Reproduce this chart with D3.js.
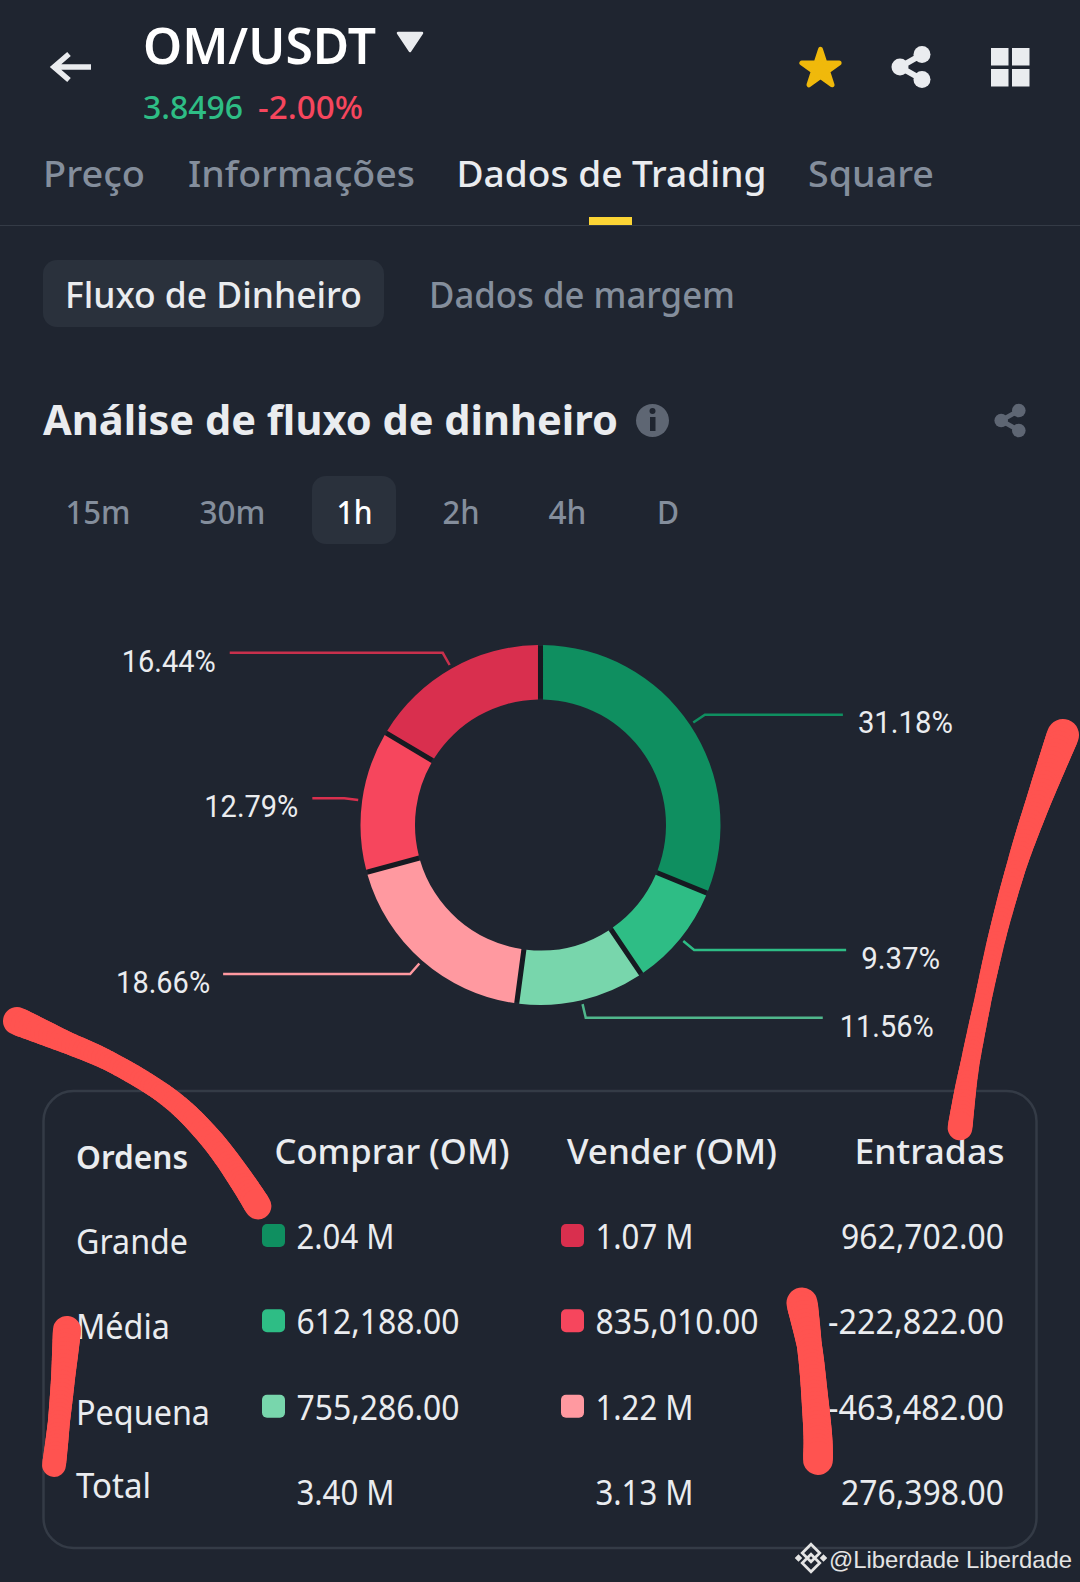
<!DOCTYPE html>
<html>
<head>
<meta charset="utf-8">
<script src="https://cdn.jsdelivr.net/npm/d3@7"></script>
<style>
  html, body { margin: 0; padding: 0; background: #1f2530; }
  svg { display: block; }
</style>
</head>
<body>
<div id="chart"></div>
<script>
// Chart data
const sliceLabels = ["31.18%", "9.37%", "11.56%", "18.66%", "12.79%", "16.44%"];
const sliceValues = [31.18, 9.37, 11.56, 18.66, 12.79, 16.44];
const sliceColors = ["#0f8f60", "#2ebd85", "#78d6ac", "#ff99a0", "#f6465d", "#d92f4e"];
const lineColors = ["#0f8f60", "#2ebd85", "#50b78c", "#ff99a0", "#d9304e", "#c8304c"];

const orderTypes = ["Grande", "Média", "Pequena", "Total"];
const buyValues = ["2.04 M", "612,188.00", "755,286.00", "3.40 M"];
const sellValues = ["1.07 M", "835,010.00", "1.22 M", "3.13 M"];
const inflowValues = ["962,702.00", "-222,822.00", "-463,482.00", "276,398.00"];
const tableHead = ["Ordens", "Comprar (OM)", "Vender (OM)", "Entradas"];

const pageTabs = ["Preço", "Informações", "Dados de Trading", "Square"];
const intervals = ["15m", "30m", "1h", "2h", "4h", "D"];

const width = 1080;
const height = 1582;
const bg = "#1f2530";
const white = "#eaecef";
const grey = "#848e9c";
const font = "'Noto Sans', sans-serif";
const numFont = "Roboto, sans-serif";

const svg = d3.select("#chart").append("svg")
  .attr("width", width)
  .attr("height", height)
  .attr("viewBox", `0 0 ${width} ${height}`);

svg.append("rect").attr("width", width).attr("height", height).attr("fill", bg);

// text helper, w squeezes the text to the width measured on the picture
function txt(s, x, y, size, fill, opts = {}) {
  const t = svg.append("text")
    .attr("x", x).attr("y", y)
    .attr("font-family", opts.family || font)
    .attr("font-size", size)
    .attr("font-weight", opts.weight || 400)
    .attr("fill", fill)
    .attr("text-anchor", opts.anchor || "start")
    .text(s);
  if (opts.w) t.attr("textLength", opts.w).attr("lengthAdjust", "spacingAndGlyphs");
  return t;
}

// Header
svg.append("path")
  .attr("d", "M91,67H55M69,54L54,67L69,80")
  .attr("fill", "none").attr("stroke", white).attr("stroke-width", 5.5);
txt("OM/USDT", 143, 64, 51, "#fff", { weight: 600, w: 233 });
svg.append("path").attr("d", "M398,33H422L410,51Z").attr("fill", white)
  .attr("stroke", white).attr("stroke-width", 2.5).attr("stroke-linejoin", "round");
txt("3.8496", 143, 119, 33, "#2ebd85", { weight: 500, w: 100 });
txt("-2.00%", 258, 119, 33, "#f6465d", { weight: 500, w: 105 });

svg.append("path")
  .attr("d", d3.symbol(d3.symbolStar, 430)())
  .attr("transform", "translate(820.5,69)")
  .attr("fill", "#f0b90b").attr("stroke", "#f0b90b")
  .attr("stroke-width", 5).attr("stroke-linejoin", "round");

function shareIcon(cx, cy, k, color) {
  const g = svg.append("g").attr("transform", `translate(${cx},${cy}) scale(${k})`);
  g.append("path").attr("d", "M11,-12.5L-11,0L11,12.5")
    .attr("fill", "none").attr("stroke", color).attr("stroke-width", 6);
  [[11, -12.5], [-11, 0], [11, 12.5]].forEach(p => {
    g.append("circle").attr("cx", p[0]).attr("cy", p[1]).attr("r", 8.5).attr("fill", color);
  });
}
shareIcon(911, 67, 1, white);

// grid icon, top right
[[991, 48], [1012, 48], [991, 69], [1012, 69]].forEach(p => {
  svg.append("rect").attr("x", p[0]).attr("y", p[1]).attr("width", 17.5).attr("height", 17.5).attr("fill", white);
});

// Tabs
const tabX = [43, 188, 456.5, 808];
const tabW = [102, 227, 310, 126];
pageTabs.forEach((t, i) => {
  txt(t, tabX[i], 187, 36, i === 2 ? white : grey, { weight: 500, w: tabW[i] });
});
svg.append("rect").attr("x", 589).attr("y", 217).attr("width", 43).attr("height", 8).attr("fill", "#fcd535");
svg.append("rect").attr("x", 0).attr("y", 225).attr("width", width).attr("height", 1).attr("fill", "#343b46");

svg.append("rect").attr("x", 43).attr("y", 260).attr("width", 341).attr("height", 67).attr("rx", 14).attr("fill", "#2a313c");
txt("Fluxo de Dinheiro", 65, 308, 36, white, { weight: 500, w: 297 });
txt("Dados de margem", 429, 308, 36, grey, { weight: 500, w: 306 });

// Section title
txt("Análise de fluxo de dinheiro", 43, 435, 42, white, { weight: 700, w: 575 });
svg.append("circle").attr("cx", 652.5).attr("cy", 420.5).attr("r", 16.5).attr("fill", "#5e6673");
svg.append("circle").attr("cx", 652.5).attr("cy", 411).attr("r", 3).attr("fill", bg);
svg.append("rect").attr("x", 650).attr("y", 417).attr("width", 5.5).attr("height", 14).attr("fill", bg);
shareIcon(1010, 420.5, 0.8, "#5e6673");

// Interval selector
const intervalX = [65.5, 199.5, 336.5, 442.5, 548.5, 657];
const intervalW = [65, 66, 36, 37, 38, 22];
svg.append("rect").attr("x", 312).attr("y", 476).attr("width", 84).attr("height", 68).attr("rx", 14).attr("fill", "#2a313c");
intervals.forEach((t, i) => {
  txt(t, intervalX[i], 524, 33, i === 2 ? "#fff" : grey, { weight: 500, w: intervalW[i] });
});

// Donut
const cx = 540.5, cy = 825, outerR = 180, innerR = 125.5;
const donut = svg.append("g").attr("transform", `translate(${cx},${cy})`);
const pie = d3.pie().sort(null).value(d => d);
const arc = d3.arc().innerRadius(innerR).outerRadius(outerR).padAngle(0.023);
const slices = pie(sliceValues);

// the gaps between slices look darker than the page
donut.append("path")
  .attr("d", d3.arc().innerRadius(innerR + 1).outerRadius(outerR - 1).startAngle(0).endAngle(2 * Math.PI)())
  .attr("fill", "#161a21");
donut.selectAll("path.slice")
  .data(slices)
  .enter()
  .append("path")
  .attr("class", "slice")
  .attr("fill", (d, i) => sliceColors[i])
  .attr("d", arc);

// Leader lines: start and elbow follow the slice middle, then a horizontal run
const lineStartR = 184, lineElbowR = 198;
const runLength = [138, 152, 237, 187, 32, 213];
const labelDx = [15, 15, 17, -13, -14, -14];
const labelDy = [18, 19, 19, 19, 19, 19];
const labelW = [95, 79, 94, 94, 94, 94];
const polar = (r, a) => [r * Math.sin(a), -r * Math.cos(a)];
const leader = d3.line();

slices.forEach((d, i) => {
  const mid = (d.startAngle + d.endAngle) / 2;
  const right = mid < Math.PI;
  const a = polar(lineStartR, mid);
  const b = polar(lineElbowR, mid);
  const c = [b[0] + (right ? 1 : -1) * runLength[i], b[1]];
  donut.append("path")
    .attr("d", leader([a, b, c]))
    .attr("fill", "none")
    .attr("stroke", lineColors[i])
    .attr("stroke-width", 2.5);
  txt(sliceLabels[i], cx + c[0] + labelDx[i], cy + c[1] + labelDy[i], 31, white, {
    family: numFont, anchor: right ? "start" : "end", w: labelW[i]
  });
});

// Table
svg.append("rect")
  .attr("x", 43.5).attr("y", 1091).attr("width", 993).attr("height", 457).attr("rx", 30)
  .attr("fill", "none").attr("stroke", "#343b46").attr("stroke-width", 2.5);

const rowY = d3.scalePoint().domain(orderTypes).range([1249, 1505]);
const labelOffset = [5, 5, 5, -7];

txt(tableHead[0], 76, 1169, 32, white, { weight: 600, w: 112 });
txt(tableHead[1], 274.5, 1164, 34, white, { weight: 500, w: 235 });
txt(tableHead[2], 567, 1164, 34, white, { weight: 500, w: 210 });
txt(tableHead[3], 1004.5, 1164, 34, white, { weight: 500, w: 150, anchor: "end" });

const buyColors = sliceColors.slice(0, 3);
const sellColors = [sliceColors[5], sliceColors[4], sliceColors[3]];
const cellW = v => v.length > 6 ? 163 : 98;

orderTypes.forEach((name, i) => {
  const y = rowY(name);
  txt(name, 76, y + labelOffset[i], 34, white, { w: [112, 94, 134, 75][i] });
  txt(buyValues[i], 296.5, y, 34, white, { w: cellW(buyValues[i]) });
  txt(sellValues[i], 595.5, y, 34, white, { w: cellW(sellValues[i]) });
  txt(inflowValues[i], 1004, y, 34, white, { w: inflowValues[i].length > 10 ? 176 : 163, anchor: "end" });
  if (i < 3) {
    svg.append("rect").attr("x", 262).attr("y", y - 25).attr("width", 23).attr("height", 23).attr("rx", 5).attr("fill", buyColors[i]);
    svg.append("rect").attr("x", 561).attr("y", y - 25).attr("width", 23).attr("height", 23).attr("rx", 5).attr("fill", sellColors[i]);
  }
});

// Hand drawn marks on top of the screenshot: [x, y, stroke width]
const scribbles = [
  [[17, 1021, 28], [61, 1040, 22], [111, 1062, 20], [172, 1100, 20], [212, 1140, 22], [242, 1181, 24], [258, 1206, 27]],
  [[1063, 735, 32], [1040, 797, 25], [1019, 858, 20], [999, 929, 18], [981, 1009, 17], [967, 1080, 19], [960, 1128, 25]],
  [[67, 1330, 28], [62, 1390, 24], [57, 1440, 22], [54, 1465, 24]],
  [[802, 1303, 31], [810, 1350, 25], [815, 1400, 26], [818, 1440, 28], [818, 1460, 30]]
];
scribbles.forEach(pts => {
  const ink = svg.append("g").attr("stroke", "#ff5350").attr("stroke-linecap", "round").attr("fill", "none");
  const path = ink.append("path")
    .attr("d", d3.line().curve(d3.curveCatmullRom)(pts.map(p => [p[0], p[1]])))
    .attr("stroke-width", 0);
  const len = path.node().getTotalLength();
  const widths = d3.scaleLinear().domain(d3.range(pts.length).map(i => i / (pts.length - 1))).range(pts.map(p => p[2]));
  const steps = d3.range(0, 1.0001, 1 / Math.ceil(len / 4));
  d3.pairs(steps).forEach(([s, e]) => {
    const p = path.node().getPointAtLength(s * len);
    const q = path.node().getPointAtLength(e * len);
    ink.append("line").attr("x1", p.x).attr("y1", p.y).attr("x2", q.x).attr("y2", q.y).attr("stroke-width", widths(s));
  });
});

// Watermark
const wm = svg.append("g").attr("transform", "translate(811,1558) scale(1.25)").attr("fill", "none").attr("stroke", "#e4e4e4");
wm.append("path").attr("d", "M0,-11L7,-4L0,3L-7,-4Z M0,-3L7,4L0,11L-7,4Z").attr("stroke-width", 2.2);
wm.append("path").attr("d", "M-13,0L-10,-3L-7,0L-10,3Z M13,0L10,-3L7,0L10,3Z").attr("fill", "#e4e4e4").attr("stroke", "none");
txt("@Liberdade Liberdade", 829, 1568, 24, "#e4e4e4", { family: "'Liberation Sans', sans-serif", w: 243 });
</script>
</body>
</html>
